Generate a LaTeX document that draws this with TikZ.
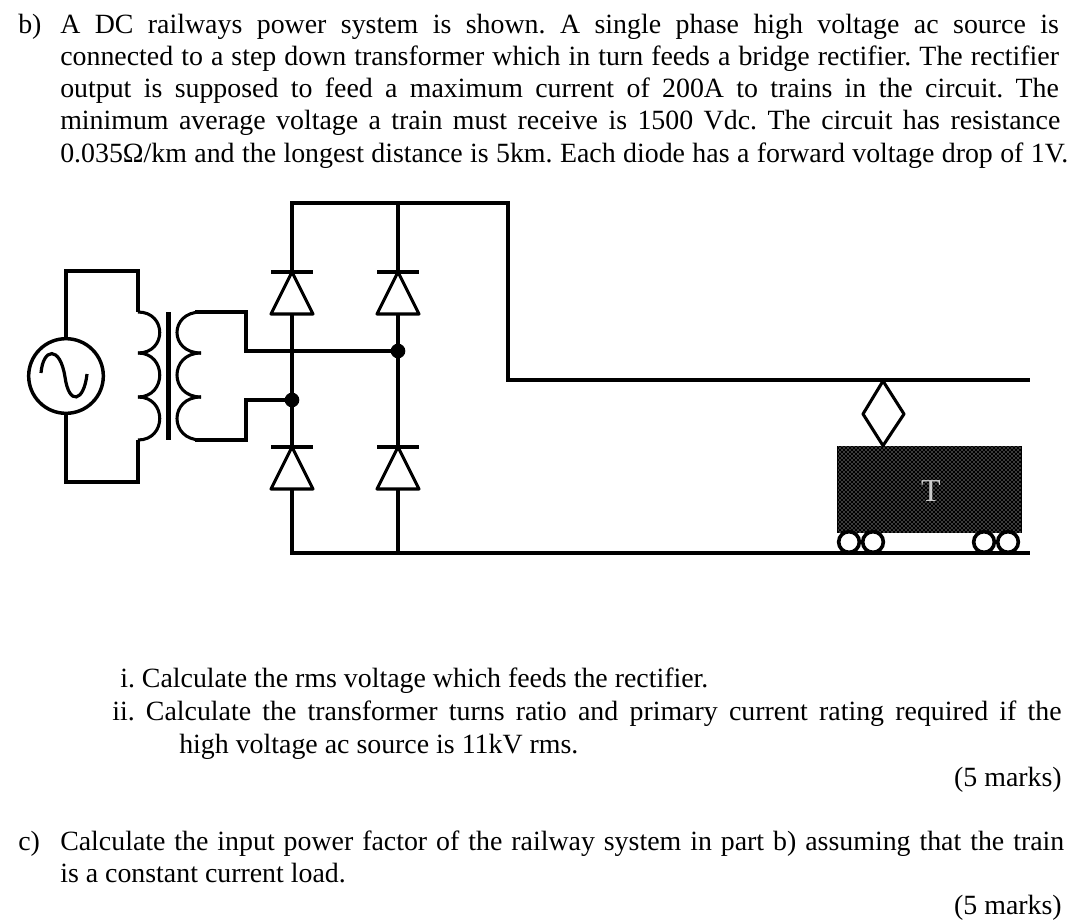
\documentclass[tikz,border=0pt]{standalone}
\usepackage{fontspec}
\setmainfont{Liberation Serif}
\usetikzlibrary{patterns}
\tikzset{
  wire/.style={line width=2.3pt,line join=miter},
  txt/.style={anchor=base west,inner sep=0pt,font=\fontsize{20.9}{24}\selectfont\frenchspacing},
  txtr/.style={txt,anchor=base east},
  dotnode/.style={circle,fill=black,inner sep=0pt,minimum size=11pt},
  wheelnode/.style={circle,draw,line width=2.7pt,fill=white,inner sep=0pt,minimum size=15.5pt},
}
\newcommand{\jl}[2]{\makebox[#1pt][s]{#2}}
\begin{document}
\begin{tikzpicture}[x=0.75pt,y=-0.75pt]
            \useasboundingbox (0,0) rectangle (1080,920);
            % question text
            \node[txt] (lb) at (18,34) {b)};
            \node[txt] (qa) at (60,34) {\jl{749}{A DC railways power system is shown. A single phase high voltage ac source is}};
            \node[txt] (qb) at (60,66) {\jl{749}{connected to a step down transformer which in turn feeds a bridge rectifier. The rectifier}};
            \node[txt] (qc) at (60,98) {\jl{749}{output is supposed to feed a maximum current of 200A to trains in the circuit. The}};
            \node[txt] (qd) at (60,130) {\jl{750}{minimum average voltage a train must receive is 1500 Vdc. The circuit has resistance}};
            \node[txt] (qe) at (60,162) {\jl{756}{0.035Ω/km and the longest distance is 5km. Each diode has a forward voltage drop of 1V.}};
            % source and primary
            \node[circle,draw,line width=2.6pt,inner sep=0pt,minimum size=56pt] (src) at (66,376) {};
            \draw[line width=2.4pt] (41,373) .. controls (43,348) and (60,345) .. (65,377) .. controls (69,406) and (84,402) .. (87,374);
            \coordinate (srctop) at (66,271);
            \coordinate (srcbot) at (66,482);
            \coordinate (priT) at (138,312);
            \coordinate (priB) at (138,440);
            \draw[wire] (src.north) -- (srctop) -- (138,271) -- (priT);
            \draw[wire] (src.south) -- (srcbot) -- (138,482) -- (priB);
            \foreach \ya/\yb in {312/353,353/397,397/440}
              \draw[wire] (138,\ya) .. controls (167,\ya) and (167,\yb) .. (138,\yb);
            % core
            \draw[line width=3.6pt] (168.5,312) -- (168.5,440);
            % secondary
            \foreach \ya/\yb in {312/353,353/397,397/440}
              \draw[wire] (201,\ya) .. controls (169,\ya) and (169,\yb) .. (201,\yb);
            % bridge
            \coordinate (topL) at (292,203);
            \coordinate (topR) at (398,203);
            \coordinate (topE) at (508,203);
            \coordinate (botL) at (292,553);
            \coordinate (botR) at (398,553);
            \coordinate (lineE) at (1030,380);
            \coordinate (railE) at (1030,553);
            \foreach \n/\x/\y in {dUL/292/272,dUR/398/272,dLL/292/447,dLR/398/447} {
              \coordinate (\n) at (\x,\y);
              \coordinate (\n b) at (\x,\y+42);
              \draw[wire] (\x-21,\y) -- (\x+21,\y);
              \draw[wire,line join=round] (\n) -- (\x+21,\y+42) -- (\x-21,\y+42) -- cycle;
            }
            \node[dotnode] (jR) at (398,351) {};
            \node[dotnode] (jL) at (292,400) {};
            \draw[wire] (topR) -- (dUR);
            \draw[wire] (dULb) -- (dLL);
            \draw[wire] (dURb) -- (dLR);
            \draw[wire] (dLRb) -- (botR);
            \draw[wire] (dUL) -- (topL) -- (topE) -- (508,380) -- (lineE);
            \draw[wire] (dLLb) -- (botL) -- (railE);
            \draw[wire] (195,312) -- (246,312) -- (246,351) -- (jR.center);
            \draw[wire] (195,440) -- (246,440) -- (246,400) -- (jL.center);
            % train
            \node[fill=black,draw=black,line width=1.8pt,minimum width=137pt,minimum height=64pt,inner sep=0pt,postaction={pattern=crosshatch dots,pattern color=white}] (train) at (929.5,489.5) {};
            \node[inner sep=0pt,text=white!80!black,font=\fontsize{24}{24}\selectfont] (tlabel) at (931,491) {T};
            \coordinate (panT) at (883,381);
            \draw[wire,line join=round] (panT) -- (904,414) -- (train.north -| 883,0) -- (863,414) -- cycle;
            \foreach \n/\x in {wa/849,wb/873,wc/984,wd/1008}
              \node[wheelnode] (\n) at (\x,542) {};
            % parts
            \node[txt] (qi) at (120,687) {i. Calculate the rms voltage which feeds the rectifier.};
            \node[txt] (qii) at (112,720) {\jl{712}{ii. Calculate the transformer turns ratio and primary current rating required if the}};
            \node[txt] (qiib) at (179,753) {high voltage ac source is 11kV rms.};
            \node[txtr] (mka) at (1062,786) {(5 marks)};
            \node[txt] (lc) at (18,850) {c)};
            \node[txt] (qca) at (60,850) {\jl{753}{Calculate the input power factor of the railway system in part b) assuming that the train}};
            \node[txt] (qcb) at (60,882) {is a constant current load.};
            \node[txtr] (mkb) at (1062,914) {(5 marks)};
        \end{tikzpicture}
\end{document}
